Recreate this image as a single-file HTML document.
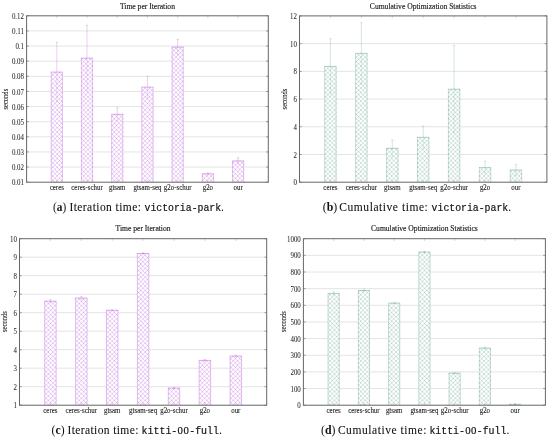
<!DOCTYPE html>
<html><head><meta charset="utf-8"><style>
html,body{margin:0;padding:0;background:#fff;}
body{width:550px;height:439px;position:relative;overflow:hidden;}
svg{position:absolute;left:0;top:0;}
</style></head><body>
<svg width="550" height="439" viewBox="0 0 550 439" font-family="'Liberation Serif', serif" fill="#222">
<defs><pattern id="pv" patternUnits="userSpaceOnUse" width="4.4" height="4.4" patternTransform="translate(0 0)"><path d="M0 0L4.4 4.4M0 4.4L4.4 0M-1 1L1 -1M3.4 5.4L5.4 3.4" stroke="#a42cd0" stroke-opacity="0.55" stroke-width="0.4" fill="none"/><g fill="#a42cd0" fill-opacity="0.18"><circle cx="0" cy="0" r="0.6"/><circle cx="4.4" cy="0" r="0.6"/><circle cx="0" cy="4.4" r="0.6"/><circle cx="4.4" cy="4.4" r="0.6"/><circle cx="2.2" cy="2.2" r="0.6"/></g></pattern>
<pattern id="pg" patternUnits="userSpaceOnUse" width="4.4" height="4.4" patternTransform="translate(0 0)"><path d="M0 0L4.4 4.4M0 4.4L4.4 0M-1 1L1 -1M3.4 5.4L5.4 3.4" stroke="#3b8a75" stroke-opacity="0.55" stroke-width="0.4" fill="none"/><g fill="#3b8a75" fill-opacity="0.18"><circle cx="0" cy="0" r="0.6"/><circle cx="4.4" cy="0" r="0.6"/><circle cx="0" cy="4.4" r="0.6"/><circle cx="4.4" cy="4.4" r="0.6"/><circle cx="2.2" cy="2.2" r="0.6"/></g></pattern>
</defs>
<line x1="26.6" y1="167.07" x2="268.3" y2="167.07" stroke="#e4e4e4" stroke-width="1"/>
<line x1="26.6" y1="151.95" x2="268.3" y2="151.95" stroke="#e4e4e4" stroke-width="1"/>
<line x1="26.6" y1="136.82" x2="268.3" y2="136.82" stroke="#e4e4e4" stroke-width="1"/>
<line x1="26.6" y1="121.69" x2="268.3" y2="121.69" stroke="#e4e4e4" stroke-width="1"/>
<line x1="26.6" y1="106.56" x2="268.3" y2="106.56" stroke="#e4e4e4" stroke-width="1"/>
<line x1="26.6" y1="91.44" x2="268.3" y2="91.44" stroke="#e4e4e4" stroke-width="1"/>
<line x1="26.6" y1="76.31" x2="268.3" y2="76.31" stroke="#e4e4e4" stroke-width="1"/>
<line x1="26.6" y1="61.18" x2="268.3" y2="61.18" stroke="#e4e4e4" stroke-width="1"/>
<line x1="26.6" y1="46.05" x2="268.3" y2="46.05" stroke="#e4e4e4" stroke-width="1"/>
<line x1="26.6" y1="30.93" x2="268.3" y2="30.93" stroke="#e4e4e4" stroke-width="1"/>
<rect x="50.92" y="72.1" width="11.78" height="110.1" fill="#fff"/>
<rect x="50.92" y="72.1" width="11.78" height="110.1" fill="url(#pv)"/>
<path d="M51.22 182.2V72.1M62.4 72.1V182.2" stroke="#a42cd0" stroke-opacity="0.45" stroke-width="0.6" fill="none"/>
<path d="M50.92 72.1H62.7" stroke="#a42cd0" stroke-opacity="0.55" stroke-width="0.7" fill="none"/>
<g stroke="#a42cd0" stroke-opacity="0.5" stroke-width="0.45"><line x1="56.81" y1="42.4" x2="56.81" y2="72.1"/><line x1="55.71" y1="42.4" x2="57.91" y2="42.4"/></g>
<g stroke="#a42cd0" stroke-opacity="0.3" stroke-width="0.45"><line x1="56.81" y1="72.1" x2="56.81" y2="101.8"/><line x1="55.71" y1="101.8" x2="57.91" y2="101.8"/></g>
<rect x="81.13" y="58.2" width="11.78" height="124" fill="#fff"/>
<rect x="81.13" y="58.2" width="11.78" height="124" fill="url(#pv)"/>
<path d="M81.43 182.2V58.2M92.62 58.2V182.2" stroke="#a42cd0" stroke-opacity="0.45" stroke-width="0.6" fill="none"/>
<path d="M81.13 58.2H92.92" stroke="#a42cd0" stroke-opacity="0.55" stroke-width="0.7" fill="none"/>
<g stroke="#a42cd0" stroke-opacity="0.5" stroke-width="0.45"><line x1="87.03" y1="25.25" x2="87.03" y2="58.2"/><line x1="85.93" y1="25.25" x2="88.12" y2="25.25"/></g>
<g stroke="#a42cd0" stroke-opacity="0.3" stroke-width="0.45"><line x1="87.03" y1="58.2" x2="87.03" y2="91.15"/><line x1="85.93" y1="91.15" x2="88.12" y2="91.15"/></g>
<rect x="111.35" y="114.3" width="11.78" height="67.9" fill="#fff"/>
<rect x="111.35" y="114.3" width="11.78" height="67.9" fill="url(#pv)"/>
<path d="M111.65 182.2V114.3M122.83 114.3V182.2" stroke="#a42cd0" stroke-opacity="0.45" stroke-width="0.6" fill="none"/>
<path d="M111.35 114.3H123.13" stroke="#a42cd0" stroke-opacity="0.55" stroke-width="0.7" fill="none"/>
<g stroke="#a42cd0" stroke-opacity="0.5" stroke-width="0.45"><line x1="117.24" y1="107.6" x2="117.24" y2="114.3"/><line x1="116.14" y1="107.6" x2="118.34" y2="107.6"/></g>
<g stroke="#a42cd0" stroke-opacity="0.3" stroke-width="0.45"><line x1="117.24" y1="114.3" x2="117.24" y2="121"/><line x1="116.14" y1="121" x2="118.34" y2="121"/></g>
<rect x="141.56" y="87.1" width="11.78" height="95.1" fill="#fff"/>
<rect x="141.56" y="87.1" width="11.78" height="95.1" fill="url(#pv)"/>
<path d="M141.86 182.2V87.1M153.04 87.1V182.2" stroke="#a42cd0" stroke-opacity="0.45" stroke-width="0.6" fill="none"/>
<path d="M141.56 87.1H153.34" stroke="#a42cd0" stroke-opacity="0.55" stroke-width="0.7" fill="none"/>
<g stroke="#a42cd0" stroke-opacity="0.5" stroke-width="0.45"><line x1="147.45" y1="76.2" x2="147.45" y2="87.1"/><line x1="146.35" y1="76.2" x2="148.55" y2="76.2"/></g>
<g stroke="#a42cd0" stroke-opacity="0.3" stroke-width="0.45"><line x1="147.45" y1="87.1" x2="147.45" y2="98"/><line x1="146.35" y1="98" x2="148.55" y2="98"/></g>
<rect x="171.77" y="47.1" width="11.78" height="135.1" fill="#fff"/>
<rect x="171.77" y="47.1" width="11.78" height="135.1" fill="url(#pv)"/>
<path d="M172.07 182.2V47.1M183.25 47.1V182.2" stroke="#a42cd0" stroke-opacity="0.45" stroke-width="0.6" fill="none"/>
<path d="M171.77 47.1H183.55" stroke="#a42cd0" stroke-opacity="0.55" stroke-width="0.7" fill="none"/>
<g stroke="#a42cd0" stroke-opacity="0.5" stroke-width="0.45"><line x1="177.66" y1="39.4" x2="177.66" y2="47.1"/><line x1="176.56" y1="39.4" x2="178.76" y2="39.4"/></g>
<g stroke="#a42cd0" stroke-opacity="0.3" stroke-width="0.45"><line x1="177.66" y1="47.1" x2="177.66" y2="54.8"/><line x1="176.56" y1="54.8" x2="178.76" y2="54.8"/></g>
<rect x="201.98" y="173.8" width="11.78" height="8.4" fill="#fff"/>
<rect x="201.98" y="173.8" width="11.78" height="8.4" fill="url(#pv)"/>
<path d="M202.28 182.2V173.8M213.47 173.8V182.2" stroke="#a42cd0" stroke-opacity="0.45" stroke-width="0.6" fill="none"/>
<path d="M201.98 173.8H213.77" stroke="#a42cd0" stroke-opacity="0.55" stroke-width="0.7" fill="none"/>
<g stroke="#a42cd0" stroke-opacity="0.5" stroke-width="0.45"><line x1="207.88" y1="172.8" x2="207.88" y2="173.8"/><line x1="206.78" y1="172.8" x2="208.97" y2="172.8"/></g>
<g stroke="#a42cd0" stroke-opacity="0.3" stroke-width="0.45"><line x1="207.88" y1="173.8" x2="207.88" y2="174.8"/><line x1="206.78" y1="174.8" x2="208.97" y2="174.8"/></g>
<rect x="232.2" y="160.9" width="11.78" height="21.3" fill="#fff"/>
<rect x="232.2" y="160.9" width="11.78" height="21.3" fill="url(#pv)"/>
<path d="M232.5 182.2V160.9M243.68 160.9V182.2" stroke="#a42cd0" stroke-opacity="0.45" stroke-width="0.6" fill="none"/>
<path d="M232.2 160.9H243.98" stroke="#a42cd0" stroke-opacity="0.55" stroke-width="0.7" fill="none"/>
<g stroke="#a42cd0" stroke-opacity="0.5" stroke-width="0.45"><line x1="238.09" y1="157.8" x2="238.09" y2="160.9"/><line x1="236.99" y1="157.8" x2="239.19" y2="157.8"/></g>
<g stroke="#a42cd0" stroke-opacity="0.3" stroke-width="0.45"><line x1="238.09" y1="160.9" x2="238.09" y2="164"/><line x1="236.99" y1="164" x2="239.19" y2="164"/></g>
<path d="M26.6 182.2h2.2M268.3 182.2h-2.2M26.6 167.07h2.2M268.3 167.07h-2.2M26.6 151.95h2.2M268.3 151.95h-2.2M26.6 136.82h2.2M268.3 136.82h-2.2M26.6 121.69h2.2M268.3 121.69h-2.2M26.6 106.56h2.2M268.3 106.56h-2.2M26.6 91.44h2.2M268.3 91.44h-2.2M26.6 76.31h2.2M268.3 76.31h-2.2M26.6 61.18h2.2M268.3 61.18h-2.2M26.6 46.05h2.2M268.3 46.05h-2.2M26.6 30.93h2.2M268.3 30.93h-2.2M26.6 15.8h2.2M268.3 15.8h-2.2" stroke="#777" stroke-width="0.7" fill="none"/>
<path d="M56.81 182.2v-2.2M56.81 15.8v2.2M87.03 182.2v-2.2M87.03 15.8v2.2M117.24 182.2v-2.2M117.24 15.8v2.2M147.45 182.2v-2.2M147.45 15.8v2.2M177.66 182.2v-2.2M177.66 15.8v2.2M207.88 182.2v-2.2M207.88 15.8v2.2M238.09 182.2v-2.2M238.09 15.8v2.2" stroke="#bbb" stroke-width="0.6" fill="none"/>
<rect x="26.6" y="15.8" width="241.7" height="166.4" fill="none" stroke="#666666" stroke-width="1"/>
<text x="24" y="185.3" text-anchor="end" font-size="7.3" textLength="12.08" lengthAdjust="spacingAndGlyphs" stroke="#222" stroke-width="0.03">0.01</text>
<text x="24" y="170.17" text-anchor="end" font-size="7.3" textLength="12.08" lengthAdjust="spacingAndGlyphs" stroke="#222" stroke-width="0.03">0.02</text>
<text x="24" y="155.05" text-anchor="end" font-size="7.3" textLength="12.08" lengthAdjust="spacingAndGlyphs" stroke="#222" stroke-width="0.03">0.03</text>
<text x="24" y="139.92" text-anchor="end" font-size="7.3" textLength="12.08" lengthAdjust="spacingAndGlyphs" stroke="#222" stroke-width="0.03">0.04</text>
<text x="24" y="124.79" text-anchor="end" font-size="7.3" textLength="12.08" lengthAdjust="spacingAndGlyphs" stroke="#222" stroke-width="0.03">0.05</text>
<text x="24" y="109.66" text-anchor="end" font-size="7.3" textLength="12.08" lengthAdjust="spacingAndGlyphs" stroke="#222" stroke-width="0.03">0.06</text>
<text x="24" y="94.54" text-anchor="end" font-size="7.3" textLength="12.08" lengthAdjust="spacingAndGlyphs" stroke="#222" stroke-width="0.03">0.07</text>
<text x="24" y="79.41" text-anchor="end" font-size="7.3" textLength="12.08" lengthAdjust="spacingAndGlyphs" stroke="#222" stroke-width="0.03">0.08</text>
<text x="24" y="64.28" text-anchor="end" font-size="7.3" textLength="12.08" lengthAdjust="spacingAndGlyphs" stroke="#222" stroke-width="0.03">0.09</text>
<text x="24" y="49.15" text-anchor="end" font-size="7.3" textLength="8.62" lengthAdjust="spacingAndGlyphs" stroke="#222" stroke-width="0.03">0.1</text>
<text x="24" y="34.03" text-anchor="end" font-size="7.3" textLength="12.08" lengthAdjust="spacingAndGlyphs" stroke="#222" stroke-width="0.03">0.11</text>
<text x="24" y="18.9" text-anchor="end" font-size="7.3" textLength="12.08" lengthAdjust="spacingAndGlyphs" stroke="#222" stroke-width="0.03">0.12</text>
<text x="56.81" y="190.2" text-anchor="middle" font-size="7.3" textLength="14.17" lengthAdjust="spacingAndGlyphs" stroke="#222" stroke-width="0.1">ceres</text>
<text x="87.03" y="190.2" text-anchor="middle" font-size="7.3" textLength="31.41" lengthAdjust="spacingAndGlyphs" stroke="#222" stroke-width="0.1">ceres-schur</text>
<text x="117.24" y="190.2" text-anchor="middle" font-size="7.3" textLength="16.48" lengthAdjust="spacingAndGlyphs" stroke="#222" stroke-width="0.1">gtsam</text>
<text x="147.45" y="190.2" text-anchor="middle" font-size="7.3" textLength="27.98" lengthAdjust="spacingAndGlyphs" stroke="#222" stroke-width="0.1">gtsam-seq</text>
<text x="177.66" y="190.2" text-anchor="middle" font-size="7.3" textLength="27.59" lengthAdjust="spacingAndGlyphs" stroke="#222" stroke-width="0.1">g2o-schur</text>
<text x="207.88" y="190.2" text-anchor="middle" font-size="7.3" textLength="10.35" lengthAdjust="spacingAndGlyphs" stroke="#222" stroke-width="0.1">g2o</text>
<text x="238.09" y="190.2" text-anchor="middle" font-size="7.3" textLength="9.2" lengthAdjust="spacingAndGlyphs" stroke="#222" stroke-width="0.1">our</text>
<text x="147.45" y="8.9" text-anchor="middle" font-size="7.6" stroke="#222" stroke-width="0.15">Time per Iteration</text>
<text transform="translate(8.1 99.2) rotate(-90)" text-anchor="middle" font-size="7.3" textLength="20.8" lengthAdjust="spacingAndGlyphs" stroke="#222" stroke-width="0.1">seconds</text>
<line x1="299.5" y1="154.48" x2="546.9" y2="154.48" stroke="#e4e4e4" stroke-width="1"/>
<line x1="299.5" y1="126.77" x2="546.9" y2="126.77" stroke="#e4e4e4" stroke-width="1"/>
<line x1="299.5" y1="99.05" x2="546.9" y2="99.05" stroke="#e4e4e4" stroke-width="1"/>
<line x1="299.5" y1="71.33" x2="546.9" y2="71.33" stroke="#e4e4e4" stroke-width="1"/>
<line x1="299.5" y1="43.62" x2="546.9" y2="43.62" stroke="#e4e4e4" stroke-width="1"/>
<rect x="324.39" y="66.4" width="12.06" height="115.8" fill="#fff"/>
<rect x="324.39" y="66.4" width="12.06" height="115.8" fill="url(#pg)"/>
<path d="M324.69 182.2V66.4M336.16 66.4V182.2" stroke="#3b8a75" stroke-opacity="0.45" stroke-width="0.6" fill="none"/>
<path d="M324.39 66.4H336.46" stroke="#3b8a75" stroke-opacity="0.55" stroke-width="0.7" fill="none"/>
<g stroke="#3b8a75" stroke-opacity="0.5" stroke-width="0.45"><line x1="330.43" y1="38.7" x2="330.43" y2="66.4"/><line x1="329.32" y1="38.7" x2="331.53" y2="38.7"/></g>
<g stroke="#3b8a75" stroke-opacity="0.3" stroke-width="0.45"><line x1="330.43" y1="66.4" x2="330.43" y2="94.1"/><line x1="329.32" y1="94.1" x2="331.53" y2="94.1"/></g>
<rect x="355.32" y="53.4" width="12.06" height="128.8" fill="#fff"/>
<rect x="355.32" y="53.4" width="12.06" height="128.8" fill="url(#pg)"/>
<path d="M355.62 182.2V53.4M367.08 53.4V182.2" stroke="#3b8a75" stroke-opacity="0.45" stroke-width="0.6" fill="none"/>
<path d="M355.32 53.4H367.38" stroke="#3b8a75" stroke-opacity="0.55" stroke-width="0.7" fill="none"/>
<g stroke="#3b8a75" stroke-opacity="0.5" stroke-width="0.45"><line x1="361.35" y1="22.7" x2="361.35" y2="53.4"/><line x1="360.25" y1="22.7" x2="362.45" y2="22.7"/></g>
<g stroke="#3b8a75" stroke-opacity="0.3" stroke-width="0.45"><line x1="361.35" y1="53.4" x2="361.35" y2="84.1"/><line x1="360.25" y1="84.1" x2="362.45" y2="84.1"/></g>
<rect x="386.24" y="148.3" width="12.06" height="33.9" fill="#fff"/>
<rect x="386.24" y="148.3" width="12.06" height="33.9" fill="url(#pg)"/>
<path d="M386.54 182.2V148.3M398.01 148.3V182.2" stroke="#3b8a75" stroke-opacity="0.45" stroke-width="0.6" fill="none"/>
<path d="M386.24 148.3H398.31" stroke="#3b8a75" stroke-opacity="0.55" stroke-width="0.7" fill="none"/>
<g stroke="#3b8a75" stroke-opacity="0.5" stroke-width="0.45"><line x1="392.27" y1="140" x2="392.27" y2="148.3"/><line x1="391.17" y1="140" x2="393.38" y2="140"/></g>
<g stroke="#3b8a75" stroke-opacity="0.3" stroke-width="0.45"><line x1="392.27" y1="148.3" x2="392.27" y2="156.6"/><line x1="391.17" y1="156.6" x2="393.38" y2="156.6"/></g>
<rect x="417.17" y="137.3" width="12.06" height="44.9" fill="#fff"/>
<rect x="417.17" y="137.3" width="12.06" height="44.9" fill="url(#pg)"/>
<path d="M417.47 182.2V137.3M428.93 137.3V182.2" stroke="#3b8a75" stroke-opacity="0.45" stroke-width="0.6" fill="none"/>
<path d="M417.17 137.3H429.23" stroke="#3b8a75" stroke-opacity="0.55" stroke-width="0.7" fill="none"/>
<g stroke="#3b8a75" stroke-opacity="0.5" stroke-width="0.45"><line x1="423.2" y1="126" x2="423.2" y2="137.3"/><line x1="422.1" y1="126" x2="424.3" y2="126"/></g>
<g stroke="#3b8a75" stroke-opacity="0.3" stroke-width="0.45"><line x1="423.2" y1="137.3" x2="423.2" y2="148.6"/><line x1="422.1" y1="148.6" x2="424.3" y2="148.6"/></g>
<rect x="448.09" y="89.2" width="12.06" height="93" fill="#fff"/>
<rect x="448.09" y="89.2" width="12.06" height="93" fill="url(#pg)"/>
<path d="M448.39 182.2V89.2M459.86 89.2V182.2" stroke="#3b8a75" stroke-opacity="0.45" stroke-width="0.6" fill="none"/>
<path d="M448.09 89.2H460.16" stroke="#3b8a75" stroke-opacity="0.55" stroke-width="0.7" fill="none"/>
<g stroke="#3b8a75" stroke-opacity="0.5" stroke-width="0.45"><line x1="454.12" y1="45.5" x2="454.12" y2="89.2"/><line x1="453.02" y1="45.5" x2="455.23" y2="45.5"/></g>
<g stroke="#3b8a75" stroke-opacity="0.3" stroke-width="0.45"><line x1="454.12" y1="89.2" x2="454.12" y2="132.9"/><line x1="453.02" y1="132.9" x2="455.23" y2="132.9"/></g>
<rect x="479.02" y="167.6" width="12.06" height="14.6" fill="#fff"/>
<rect x="479.02" y="167.6" width="12.06" height="14.6" fill="url(#pg)"/>
<path d="M479.32 182.2V167.6M490.78 167.6V182.2" stroke="#3b8a75" stroke-opacity="0.45" stroke-width="0.6" fill="none"/>
<path d="M479.02 167.6H491.08" stroke="#3b8a75" stroke-opacity="0.55" stroke-width="0.7" fill="none"/>
<g stroke="#3b8a75" stroke-opacity="0.5" stroke-width="0.45"><line x1="485.05" y1="161.3" x2="485.05" y2="167.6"/><line x1="483.95" y1="161.3" x2="486.15" y2="161.3"/></g>
<g stroke="#3b8a75" stroke-opacity="0.3" stroke-width="0.45"><line x1="485.05" y1="167.6" x2="485.05" y2="173.9"/><line x1="483.95" y1="173.9" x2="486.15" y2="173.9"/></g>
<rect x="509.94" y="170" width="12.06" height="12.2" fill="#fff"/>
<rect x="509.94" y="170" width="12.06" height="12.2" fill="url(#pg)"/>
<path d="M510.24 182.2V170M521.71 170V182.2" stroke="#3b8a75" stroke-opacity="0.45" stroke-width="0.6" fill="none"/>
<path d="M509.94 170H522.01" stroke="#3b8a75" stroke-opacity="0.55" stroke-width="0.7" fill="none"/>
<g stroke="#3b8a75" stroke-opacity="0.5" stroke-width="0.45"><line x1="515.97" y1="164.6" x2="515.97" y2="170"/><line x1="514.87" y1="164.6" x2="517.07" y2="164.6"/></g>
<g stroke="#3b8a75" stroke-opacity="0.3" stroke-width="0.45"><line x1="515.97" y1="170" x2="515.97" y2="175.4"/><line x1="514.87" y1="175.4" x2="517.07" y2="175.4"/></g>
<path d="M299.5 182.2h2.2M546.9 182.2h-2.2M299.5 154.48h2.2M546.9 154.48h-2.2M299.5 126.77h2.2M546.9 126.77h-2.2M299.5 99.05h2.2M546.9 99.05h-2.2M299.5 71.33h2.2M546.9 71.33h-2.2M299.5 43.62h2.2M546.9 43.62h-2.2M299.5 15.9h2.2M546.9 15.9h-2.2" stroke="#777" stroke-width="0.7" fill="none"/>
<path d="M330.43 182.2v-2.2M330.43 15.9v2.2M361.35 182.2v-2.2M361.35 15.9v2.2M392.27 182.2v-2.2M392.27 15.9v2.2M423.2 182.2v-2.2M423.2 15.9v2.2M454.12 182.2v-2.2M454.12 15.9v2.2M485.05 182.2v-2.2M485.05 15.9v2.2M515.97 182.2v-2.2M515.97 15.9v2.2" stroke="#bbb" stroke-width="0.6" fill="none"/>
<rect x="299.5" y="15.9" width="247.4" height="166.3" fill="none" stroke="#666666" stroke-width="1"/>
<text x="296.9" y="185.3" text-anchor="end" font-size="7.3" textLength="3.45" lengthAdjust="spacingAndGlyphs" stroke="#222" stroke-width="0.03">0</text>
<text x="296.9" y="157.58" text-anchor="end" font-size="7.3" textLength="3.45" lengthAdjust="spacingAndGlyphs" stroke="#222" stroke-width="0.03">2</text>
<text x="296.9" y="129.87" text-anchor="end" font-size="7.3" textLength="3.45" lengthAdjust="spacingAndGlyphs" stroke="#222" stroke-width="0.03">4</text>
<text x="296.9" y="102.15" text-anchor="end" font-size="7.3" textLength="3.45" lengthAdjust="spacingAndGlyphs" stroke="#222" stroke-width="0.03">6</text>
<text x="296.9" y="74.43" text-anchor="end" font-size="7.3" textLength="3.45" lengthAdjust="spacingAndGlyphs" stroke="#222" stroke-width="0.03">8</text>
<text x="296.9" y="46.72" text-anchor="end" font-size="7.3" textLength="6.9" lengthAdjust="spacingAndGlyphs" stroke="#222" stroke-width="0.03">10</text>
<text x="296.9" y="19" text-anchor="end" font-size="7.3" textLength="6.9" lengthAdjust="spacingAndGlyphs" stroke="#222" stroke-width="0.03">12</text>
<text x="330.43" y="190.2" text-anchor="middle" font-size="7.3" textLength="14.17" lengthAdjust="spacingAndGlyphs" stroke="#222" stroke-width="0.1">ceres</text>
<text x="361.35" y="190.2" text-anchor="middle" font-size="7.3" textLength="31.41" lengthAdjust="spacingAndGlyphs" stroke="#222" stroke-width="0.1">ceres-schur</text>
<text x="392.27" y="190.2" text-anchor="middle" font-size="7.3" textLength="16.48" lengthAdjust="spacingAndGlyphs" stroke="#222" stroke-width="0.1">gtsam</text>
<text x="423.2" y="190.2" text-anchor="middle" font-size="7.3" textLength="27.98" lengthAdjust="spacingAndGlyphs" stroke="#222" stroke-width="0.1">gtsam-seq</text>
<text x="454.12" y="190.2" text-anchor="middle" font-size="7.3" textLength="27.59" lengthAdjust="spacingAndGlyphs" stroke="#222" stroke-width="0.1">g2o-schur</text>
<text x="485.05" y="190.2" text-anchor="middle" font-size="7.3" textLength="10.35" lengthAdjust="spacingAndGlyphs" stroke="#222" stroke-width="0.1">g2o</text>
<text x="515.97" y="190.2" text-anchor="middle" font-size="7.3" textLength="9.2" lengthAdjust="spacingAndGlyphs" stroke="#222" stroke-width="0.1">our</text>
<text x="423.2" y="8.9" text-anchor="middle" font-size="7.6" stroke="#222" stroke-width="0.15">Cumulative Optimization Statistics</text>
<text transform="translate(287.2 99) rotate(-90)" text-anchor="middle" font-size="7.3" textLength="20.8" lengthAdjust="spacingAndGlyphs" stroke="#222" stroke-width="0.1">seconds</text>
<line x1="19.5" y1="386.7" x2="266.7" y2="386.7" stroke="#e4e4e4" stroke-width="1"/>
<line x1="19.5" y1="368.2" x2="266.7" y2="368.2" stroke="#e4e4e4" stroke-width="1"/>
<line x1="19.5" y1="349.7" x2="266.7" y2="349.7" stroke="#e4e4e4" stroke-width="1"/>
<line x1="19.5" y1="331.2" x2="266.7" y2="331.2" stroke="#e4e4e4" stroke-width="1"/>
<line x1="19.5" y1="312.7" x2="266.7" y2="312.7" stroke="#e4e4e4" stroke-width="1"/>
<line x1="19.5" y1="294.2" x2="266.7" y2="294.2" stroke="#e4e4e4" stroke-width="1"/>
<line x1="19.5" y1="275.7" x2="266.7" y2="275.7" stroke="#e4e4e4" stroke-width="1"/>
<line x1="19.5" y1="257.2" x2="266.7" y2="257.2" stroke="#e4e4e4" stroke-width="1"/>
<rect x="44.37" y="301.2" width="12.05" height="104" fill="#fff"/>
<rect x="44.37" y="301.2" width="12.05" height="104" fill="url(#pv)"/>
<path d="M44.67 405.2V301.2M56.13 301.2V405.2" stroke="#a42cd0" stroke-opacity="0.45" stroke-width="0.6" fill="none"/>
<path d="M44.37 301.2H56.43" stroke="#a42cd0" stroke-opacity="0.55" stroke-width="0.7" fill="none"/>
<g stroke="#a42cd0" stroke-opacity="0.5" stroke-width="0.45"><line x1="50.4" y1="299.5" x2="50.4" y2="301.2"/><line x1="49.3" y1="299.5" x2="51.5" y2="299.5"/></g>
<g stroke="#a42cd0" stroke-opacity="0.3" stroke-width="0.45"><line x1="50.4" y1="301.2" x2="50.4" y2="302.9"/><line x1="49.3" y1="302.9" x2="51.5" y2="302.9"/></g>
<rect x="75.27" y="298" width="12.05" height="107.2" fill="#fff"/>
<rect x="75.27" y="298" width="12.05" height="107.2" fill="url(#pv)"/>
<path d="M75.57 405.2V298M87.03 298V405.2" stroke="#a42cd0" stroke-opacity="0.45" stroke-width="0.6" fill="none"/>
<path d="M75.27 298H87.33" stroke="#a42cd0" stroke-opacity="0.55" stroke-width="0.7" fill="none"/>
<g stroke="#a42cd0" stroke-opacity="0.5" stroke-width="0.45"><line x1="81.3" y1="296.5" x2="81.3" y2="298"/><line x1="80.2" y1="296.5" x2="82.4" y2="296.5"/></g>
<g stroke="#a42cd0" stroke-opacity="0.3" stroke-width="0.45"><line x1="81.3" y1="298" x2="81.3" y2="299.5"/><line x1="80.2" y1="299.5" x2="82.4" y2="299.5"/></g>
<rect x="106.17" y="310.3" width="12.05" height="94.9" fill="#fff"/>
<rect x="106.17" y="310.3" width="12.05" height="94.9" fill="url(#pv)"/>
<path d="M106.47 405.2V310.3M117.93 310.3V405.2" stroke="#a42cd0" stroke-opacity="0.45" stroke-width="0.6" fill="none"/>
<path d="M106.17 310.3H118.23" stroke="#a42cd0" stroke-opacity="0.55" stroke-width="0.7" fill="none"/>
<g stroke="#a42cd0" stroke-opacity="0.5" stroke-width="0.45"><line x1="112.2" y1="309.8" x2="112.2" y2="310.3"/><line x1="111.1" y1="309.8" x2="113.3" y2="309.8"/></g>
<g stroke="#a42cd0" stroke-opacity="0.3" stroke-width="0.45"><line x1="112.2" y1="310.3" x2="112.2" y2="310.8"/><line x1="111.1" y1="310.8" x2="113.3" y2="310.8"/></g>
<rect x="137.07" y="253.5" width="12.05" height="151.7" fill="#fff"/>
<rect x="137.07" y="253.5" width="12.05" height="151.7" fill="url(#pv)"/>
<path d="M137.37 405.2V253.5M148.83 253.5V405.2" stroke="#a42cd0" stroke-opacity="0.45" stroke-width="0.6" fill="none"/>
<path d="M137.07 253.5H149.13" stroke="#a42cd0" stroke-opacity="0.55" stroke-width="0.7" fill="none"/>
<g stroke="#a42cd0" stroke-opacity="0.5" stroke-width="0.45"><line x1="143.1" y1="252.8" x2="143.1" y2="253.5"/><line x1="142" y1="252.8" x2="144.2" y2="252.8"/></g>
<g stroke="#a42cd0" stroke-opacity="0.3" stroke-width="0.45"><line x1="143.1" y1="253.5" x2="143.1" y2="254.2"/><line x1="142" y1="254.2" x2="144.2" y2="254.2"/></g>
<rect x="167.97" y="388.1" width="12.05" height="17.1" fill="#fff"/>
<rect x="167.97" y="388.1" width="12.05" height="17.1" fill="url(#pv)"/>
<path d="M168.27 405.2V388.1M179.73 388.1V405.2" stroke="#a42cd0" stroke-opacity="0.45" stroke-width="0.6" fill="none"/>
<path d="M167.97 388.1H180.03" stroke="#a42cd0" stroke-opacity="0.55" stroke-width="0.7" fill="none"/>
<g stroke="#a42cd0" stroke-opacity="0.5" stroke-width="0.45"><line x1="174" y1="387.6" x2="174" y2="388.1"/><line x1="172.9" y1="387.6" x2="175.1" y2="387.6"/></g>
<g stroke="#a42cd0" stroke-opacity="0.3" stroke-width="0.45"><line x1="174" y1="388.1" x2="174" y2="388.6"/><line x1="172.9" y1="388.6" x2="175.1" y2="388.6"/></g>
<rect x="198.87" y="360.4" width="12.05" height="44.8" fill="#fff"/>
<rect x="198.87" y="360.4" width="12.05" height="44.8" fill="url(#pv)"/>
<path d="M199.17 405.2V360.4M210.63 360.4V405.2" stroke="#a42cd0" stroke-opacity="0.45" stroke-width="0.6" fill="none"/>
<path d="M198.87 360.4H210.93" stroke="#a42cd0" stroke-opacity="0.55" stroke-width="0.7" fill="none"/>
<g stroke="#a42cd0" stroke-opacity="0.5" stroke-width="0.45"><line x1="204.9" y1="359.6" x2="204.9" y2="360.4"/><line x1="203.8" y1="359.6" x2="206" y2="359.6"/></g>
<g stroke="#a42cd0" stroke-opacity="0.3" stroke-width="0.45"><line x1="204.9" y1="360.4" x2="204.9" y2="361.2"/><line x1="203.8" y1="361.2" x2="206" y2="361.2"/></g>
<rect x="229.77" y="356" width="12.05" height="49.2" fill="#fff"/>
<rect x="229.77" y="356" width="12.05" height="49.2" fill="url(#pv)"/>
<path d="M230.07 405.2V356M241.53 356V405.2" stroke="#a42cd0" stroke-opacity="0.45" stroke-width="0.6" fill="none"/>
<path d="M229.77 356H241.83" stroke="#a42cd0" stroke-opacity="0.55" stroke-width="0.7" fill="none"/>
<g stroke="#a42cd0" stroke-opacity="0.5" stroke-width="0.45"><line x1="235.8" y1="355" x2="235.8" y2="356"/><line x1="234.7" y1="355" x2="236.9" y2="355"/></g>
<g stroke="#a42cd0" stroke-opacity="0.3" stroke-width="0.45"><line x1="235.8" y1="356" x2="235.8" y2="357"/><line x1="234.7" y1="357" x2="236.9" y2="357"/></g>
<path d="M19.5 405.2h2.2M266.7 405.2h-2.2M19.5 386.7h2.2M266.7 386.7h-2.2M19.5 368.2h2.2M266.7 368.2h-2.2M19.5 349.7h2.2M266.7 349.7h-2.2M19.5 331.2h2.2M266.7 331.2h-2.2M19.5 312.7h2.2M266.7 312.7h-2.2M19.5 294.2h2.2M266.7 294.2h-2.2M19.5 275.7h2.2M266.7 275.7h-2.2M19.5 257.2h2.2M266.7 257.2h-2.2M19.5 238.7h2.2M266.7 238.7h-2.2" stroke="#777" stroke-width="0.7" fill="none"/>
<path d="M50.4 405.2v-2.2M50.4 238.7v2.2M81.3 405.2v-2.2M81.3 238.7v2.2M112.2 405.2v-2.2M112.2 238.7v2.2M143.1 405.2v-2.2M143.1 238.7v2.2M174 405.2v-2.2M174 238.7v2.2M204.9 405.2v-2.2M204.9 238.7v2.2M235.8 405.2v-2.2M235.8 238.7v2.2" stroke="#bbb" stroke-width="0.6" fill="none"/>
<rect x="19.5" y="238.7" width="247.2" height="166.5" fill="none" stroke="#666666" stroke-width="1"/>
<text x="16.9" y="408.3" text-anchor="end" font-size="7.3" textLength="3.45" lengthAdjust="spacingAndGlyphs" stroke="#222" stroke-width="0.03">1</text>
<text x="16.9" y="389.8" text-anchor="end" font-size="7.3" textLength="3.45" lengthAdjust="spacingAndGlyphs" stroke="#222" stroke-width="0.03">2</text>
<text x="16.9" y="371.3" text-anchor="end" font-size="7.3" textLength="3.45" lengthAdjust="spacingAndGlyphs" stroke="#222" stroke-width="0.03">3</text>
<text x="16.9" y="352.8" text-anchor="end" font-size="7.3" textLength="3.45" lengthAdjust="spacingAndGlyphs" stroke="#222" stroke-width="0.03">4</text>
<text x="16.9" y="334.3" text-anchor="end" font-size="7.3" textLength="3.45" lengthAdjust="spacingAndGlyphs" stroke="#222" stroke-width="0.03">5</text>
<text x="16.9" y="315.8" text-anchor="end" font-size="7.3" textLength="3.45" lengthAdjust="spacingAndGlyphs" stroke="#222" stroke-width="0.03">6</text>
<text x="16.9" y="297.3" text-anchor="end" font-size="7.3" textLength="3.45" lengthAdjust="spacingAndGlyphs" stroke="#222" stroke-width="0.03">7</text>
<text x="16.9" y="278.8" text-anchor="end" font-size="7.3" textLength="3.45" lengthAdjust="spacingAndGlyphs" stroke="#222" stroke-width="0.03">8</text>
<text x="16.9" y="260.3" text-anchor="end" font-size="7.3" textLength="3.45" lengthAdjust="spacingAndGlyphs" stroke="#222" stroke-width="0.03">9</text>
<text x="16.9" y="241.8" text-anchor="end" font-size="7.3" textLength="6.9" lengthAdjust="spacingAndGlyphs" stroke="#222" stroke-width="0.03">10</text>
<text x="50.4" y="413.3" text-anchor="middle" font-size="7.3" textLength="14.17" lengthAdjust="spacingAndGlyphs" stroke="#222" stroke-width="0.1">ceres</text>
<text x="81.3" y="413.3" text-anchor="middle" font-size="7.3" textLength="31.41" lengthAdjust="spacingAndGlyphs" stroke="#222" stroke-width="0.1">ceres-schur</text>
<text x="112.2" y="413.3" text-anchor="middle" font-size="7.3" textLength="16.48" lengthAdjust="spacingAndGlyphs" stroke="#222" stroke-width="0.1">gtsam</text>
<text x="143.1" y="413.3" text-anchor="middle" font-size="7.3" textLength="27.98" lengthAdjust="spacingAndGlyphs" stroke="#222" stroke-width="0.1">gtsam-seq</text>
<text x="174" y="413.3" text-anchor="middle" font-size="7.3" textLength="27.59" lengthAdjust="spacingAndGlyphs" stroke="#222" stroke-width="0.1">g2o-schur</text>
<text x="204.9" y="413.3" text-anchor="middle" font-size="7.3" textLength="10.35" lengthAdjust="spacingAndGlyphs" stroke="#222" stroke-width="0.1">g2o</text>
<text x="235.8" y="413.3" text-anchor="middle" font-size="7.3" textLength="9.2" lengthAdjust="spacingAndGlyphs" stroke="#222" stroke-width="0.1">our</text>
<text x="143.1" y="231.3" text-anchor="middle" font-size="7.6" stroke="#222" stroke-width="0.15">Time per Iteration</text>
<text transform="translate(7.1 321.6) rotate(-90)" text-anchor="middle" font-size="7.3" textLength="20.8" lengthAdjust="spacingAndGlyphs" stroke="#222" stroke-width="0.1">seconds</text>
<line x1="303.4" y1="388.55" x2="545.4" y2="388.55" stroke="#e4e4e4" stroke-width="1"/>
<line x1="303.4" y1="371.9" x2="545.4" y2="371.9" stroke="#e4e4e4" stroke-width="1"/>
<line x1="303.4" y1="355.25" x2="545.4" y2="355.25" stroke="#e4e4e4" stroke-width="1"/>
<line x1="303.4" y1="338.6" x2="545.4" y2="338.6" stroke="#e4e4e4" stroke-width="1"/>
<line x1="303.4" y1="321.95" x2="545.4" y2="321.95" stroke="#e4e4e4" stroke-width="1"/>
<line x1="303.4" y1="305.3" x2="545.4" y2="305.3" stroke="#e4e4e4" stroke-width="1"/>
<line x1="303.4" y1="288.65" x2="545.4" y2="288.65" stroke="#e4e4e4" stroke-width="1"/>
<line x1="303.4" y1="272" x2="545.4" y2="272" stroke="#e4e4e4" stroke-width="1"/>
<line x1="303.4" y1="255.35" x2="545.4" y2="255.35" stroke="#e4e4e4" stroke-width="1"/>
<rect x="327.75" y="293.4" width="11.8" height="111.8" fill="#fff"/>
<rect x="327.75" y="293.4" width="11.8" height="111.8" fill="url(#pg)"/>
<path d="M328.05 405.2V293.4M339.25 293.4V405.2" stroke="#3b8a75" stroke-opacity="0.45" stroke-width="0.6" fill="none"/>
<path d="M327.75 293.4H339.55" stroke="#3b8a75" stroke-opacity="0.55" stroke-width="0.7" fill="none"/>
<g stroke="#3b8a75" stroke-opacity="0.5" stroke-width="0.45"><line x1="333.65" y1="291.9" x2="333.65" y2="293.4"/><line x1="332.55" y1="291.9" x2="334.75" y2="291.9"/></g>
<g stroke="#3b8a75" stroke-opacity="0.3" stroke-width="0.45"><line x1="333.65" y1="293.4" x2="333.65" y2="294.9"/><line x1="332.55" y1="294.9" x2="334.75" y2="294.9"/></g>
<rect x="358" y="290.5" width="11.8" height="114.7" fill="#fff"/>
<rect x="358" y="290.5" width="11.8" height="114.7" fill="url(#pg)"/>
<path d="M358.3 405.2V290.5M369.5 290.5V405.2" stroke="#3b8a75" stroke-opacity="0.45" stroke-width="0.6" fill="none"/>
<path d="M358 290.5H369.8" stroke="#3b8a75" stroke-opacity="0.55" stroke-width="0.7" fill="none"/>
<g stroke="#3b8a75" stroke-opacity="0.5" stroke-width="0.45"><line x1="363.9" y1="289.3" x2="363.9" y2="290.5"/><line x1="362.8" y1="289.3" x2="365" y2="289.3"/></g>
<g stroke="#3b8a75" stroke-opacity="0.3" stroke-width="0.45"><line x1="363.9" y1="290.5" x2="363.9" y2="291.7"/><line x1="362.8" y1="291.7" x2="365" y2="291.7"/></g>
<rect x="388.25" y="303.1" width="11.8" height="102.1" fill="#fff"/>
<rect x="388.25" y="303.1" width="11.8" height="102.1" fill="url(#pg)"/>
<path d="M388.55 405.2V303.1M399.75 303.1V405.2" stroke="#3b8a75" stroke-opacity="0.45" stroke-width="0.6" fill="none"/>
<path d="M388.25 303.1H400.05" stroke="#3b8a75" stroke-opacity="0.55" stroke-width="0.7" fill="none"/>
<g stroke="#3b8a75" stroke-opacity="0.5" stroke-width="0.45"><line x1="394.15" y1="302.6" x2="394.15" y2="303.1"/><line x1="393.05" y1="302.6" x2="395.25" y2="302.6"/></g>
<g stroke="#3b8a75" stroke-opacity="0.3" stroke-width="0.45"><line x1="394.15" y1="303.1" x2="394.15" y2="303.6"/><line x1="393.05" y1="303.6" x2="395.25" y2="303.6"/></g>
<rect x="418.5" y="252" width="11.8" height="153.2" fill="#fff"/>
<rect x="418.5" y="252" width="11.8" height="153.2" fill="url(#pg)"/>
<path d="M418.8 405.2V252M430 252V405.2" stroke="#3b8a75" stroke-opacity="0.45" stroke-width="0.6" fill="none"/>
<path d="M418.5 252H430.3" stroke="#3b8a75" stroke-opacity="0.55" stroke-width="0.7" fill="none"/>
<g stroke="#3b8a75" stroke-opacity="0.5" stroke-width="0.45"><line x1="424.4" y1="251.3" x2="424.4" y2="252"/><line x1="423.3" y1="251.3" x2="425.5" y2="251.3"/></g>
<g stroke="#3b8a75" stroke-opacity="0.3" stroke-width="0.45"><line x1="424.4" y1="252" x2="424.4" y2="252.7"/><line x1="423.3" y1="252.7" x2="425.5" y2="252.7"/></g>
<rect x="448.75" y="373.2" width="11.8" height="32" fill="#fff"/>
<rect x="448.75" y="373.2" width="11.8" height="32" fill="url(#pg)"/>
<path d="M449.05 405.2V373.2M460.25 373.2V405.2" stroke="#3b8a75" stroke-opacity="0.45" stroke-width="0.6" fill="none"/>
<path d="M448.75 373.2H460.55" stroke="#3b8a75" stroke-opacity="0.55" stroke-width="0.7" fill="none"/>
<g stroke="#3b8a75" stroke-opacity="0.5" stroke-width="0.45"><line x1="454.65" y1="372.7" x2="454.65" y2="373.2"/><line x1="453.55" y1="372.7" x2="455.75" y2="372.7"/></g>
<g stroke="#3b8a75" stroke-opacity="0.3" stroke-width="0.45"><line x1="454.65" y1="373.2" x2="454.65" y2="373.7"/><line x1="453.55" y1="373.7" x2="455.75" y2="373.7"/></g>
<rect x="479" y="348.1" width="11.8" height="57.1" fill="#fff"/>
<rect x="479" y="348.1" width="11.8" height="57.1" fill="url(#pg)"/>
<path d="M479.3 405.2V348.1M490.5 348.1V405.2" stroke="#3b8a75" stroke-opacity="0.45" stroke-width="0.6" fill="none"/>
<path d="M479 348.1H490.8" stroke="#3b8a75" stroke-opacity="0.55" stroke-width="0.7" fill="none"/>
<g stroke="#3b8a75" stroke-opacity="0.5" stroke-width="0.45"><line x1="484.9" y1="347" x2="484.9" y2="348.1"/><line x1="483.8" y1="347" x2="486" y2="347"/></g>
<g stroke="#3b8a75" stroke-opacity="0.3" stroke-width="0.45"><line x1="484.9" y1="348.1" x2="484.9" y2="349.2"/><line x1="483.8" y1="349.2" x2="486" y2="349.2"/></g>
<rect x="509.25" y="404.3" width="11.8" height="0.9" fill="#fff"/>
<rect x="509.25" y="404.3" width="11.8" height="0.9" fill="url(#pg)"/>
<path d="M509.55 405.2V404.3M520.75 404.3V405.2" stroke="#3b8a75" stroke-opacity="0.45" stroke-width="0.6" fill="none"/>
<path d="M509.25 404.3H521.05" stroke="#3b8a75" stroke-opacity="0.55" stroke-width="0.7" fill="none"/>
<g stroke="#3b8a75" stroke-opacity="0.5" stroke-width="0.45"><line x1="515.15" y1="403.8" x2="515.15" y2="404.3"/><line x1="514.05" y1="403.8" x2="516.25" y2="403.8"/></g>
<g stroke="#3b8a75" stroke-opacity="0.3" stroke-width="0.45"><line x1="515.15" y1="404.3" x2="515.15" y2="404.8"/><line x1="514.05" y1="404.8" x2="516.25" y2="404.8"/></g>
<path d="M303.4 405.2h2.2M545.4 405.2h-2.2M303.4 388.55h2.2M545.4 388.55h-2.2M303.4 371.9h2.2M545.4 371.9h-2.2M303.4 355.25h2.2M545.4 355.25h-2.2M303.4 338.6h2.2M545.4 338.6h-2.2M303.4 321.95h2.2M545.4 321.95h-2.2M303.4 305.3h2.2M545.4 305.3h-2.2M303.4 288.65h2.2M545.4 288.65h-2.2M303.4 272h2.2M545.4 272h-2.2M303.4 255.35h2.2M545.4 255.35h-2.2M303.4 238.7h2.2M545.4 238.7h-2.2" stroke="#777" stroke-width="0.7" fill="none"/>
<path d="M333.65 405.2v-2.2M333.65 238.7v2.2M363.9 405.2v-2.2M363.9 238.7v2.2M394.15 405.2v-2.2M394.15 238.7v2.2M424.4 405.2v-2.2M424.4 238.7v2.2M454.65 405.2v-2.2M454.65 238.7v2.2M484.9 405.2v-2.2M484.9 238.7v2.2M515.15 405.2v-2.2M515.15 238.7v2.2" stroke="#bbb" stroke-width="0.6" fill="none"/>
<rect x="303.4" y="238.7" width="242" height="166.5" fill="none" stroke="#666666" stroke-width="1"/>
<text x="300.8" y="408.3" text-anchor="end" font-size="7.3" textLength="3.45" lengthAdjust="spacingAndGlyphs" stroke="#222" stroke-width="0.03">0</text>
<text x="300.8" y="391.65" text-anchor="end" font-size="7.3" textLength="10.35" lengthAdjust="spacingAndGlyphs" stroke="#222" stroke-width="0.03">100</text>
<text x="300.8" y="375" text-anchor="end" font-size="7.3" textLength="10.35" lengthAdjust="spacingAndGlyphs" stroke="#222" stroke-width="0.03">200</text>
<text x="300.8" y="358.35" text-anchor="end" font-size="7.3" textLength="10.35" lengthAdjust="spacingAndGlyphs" stroke="#222" stroke-width="0.03">300</text>
<text x="300.8" y="341.7" text-anchor="end" font-size="7.3" textLength="10.35" lengthAdjust="spacingAndGlyphs" stroke="#222" stroke-width="0.03">400</text>
<text x="300.8" y="325.05" text-anchor="end" font-size="7.3" textLength="10.35" lengthAdjust="spacingAndGlyphs" stroke="#222" stroke-width="0.03">500</text>
<text x="300.8" y="308.4" text-anchor="end" font-size="7.3" textLength="10.35" lengthAdjust="spacingAndGlyphs" stroke="#222" stroke-width="0.03">600</text>
<text x="300.8" y="291.75" text-anchor="end" font-size="7.3" textLength="10.35" lengthAdjust="spacingAndGlyphs" stroke="#222" stroke-width="0.03">700</text>
<text x="300.8" y="275.1" text-anchor="end" font-size="7.3" textLength="10.35" lengthAdjust="spacingAndGlyphs" stroke="#222" stroke-width="0.03">800</text>
<text x="300.8" y="258.45" text-anchor="end" font-size="7.3" textLength="10.35" lengthAdjust="spacingAndGlyphs" stroke="#222" stroke-width="0.03">900</text>
<text x="300.8" y="241.8" text-anchor="end" font-size="7.3" textLength="13.8" lengthAdjust="spacingAndGlyphs" stroke="#222" stroke-width="0.03">1000</text>
<text x="333.65" y="413.3" text-anchor="middle" font-size="7.3" textLength="14.17" lengthAdjust="spacingAndGlyphs" stroke="#222" stroke-width="0.1">ceres</text>
<text x="363.9" y="413.3" text-anchor="middle" font-size="7.3" textLength="31.41" lengthAdjust="spacingAndGlyphs" stroke="#222" stroke-width="0.1">ceres-schur</text>
<text x="394.15" y="413.3" text-anchor="middle" font-size="7.3" textLength="16.48" lengthAdjust="spacingAndGlyphs" stroke="#222" stroke-width="0.1">gtsam</text>
<text x="424.4" y="413.3" text-anchor="middle" font-size="7.3" textLength="27.98" lengthAdjust="spacingAndGlyphs" stroke="#222" stroke-width="0.1">gtsam-seq</text>
<text x="454.65" y="413.3" text-anchor="middle" font-size="7.3" textLength="27.59" lengthAdjust="spacingAndGlyphs" stroke="#222" stroke-width="0.1">g2o-schur</text>
<text x="484.9" y="413.3" text-anchor="middle" font-size="7.3" textLength="10.35" lengthAdjust="spacingAndGlyphs" stroke="#222" stroke-width="0.1">g2o</text>
<text x="515.15" y="413.3" text-anchor="middle" font-size="7.3" textLength="9.2" lengthAdjust="spacingAndGlyphs" stroke="#222" stroke-width="0.1">our</text>
<text x="424.4" y="231.3" text-anchor="middle" font-size="7.6" stroke="#222" stroke-width="0.15">Cumulative Optimization Statistics</text>
<text transform="translate(286.3 321.6) rotate(-90)" text-anchor="middle" font-size="7.3" textLength="20.8" lengthAdjust="spacingAndGlyphs" stroke="#222" stroke-width="0.1">seconds</text>
<g fill="#111"><text x="53" y="210.8" font-size="11.5" textLength="13.2" lengthAdjust="spacingAndGlyphs">(<tspan font-weight="bold">a</tspan>)</text>
<text x="69.4" y="210.8" font-size="11.5" textLength="71.5" lengthAdjust="spacing" stroke="#111" stroke-width="0.08">Iteration time:</text>
<text x="144.5" y="210.8" font-family="'Liberation Mono', monospace" font-size="11.0" textLength="76.6" lengthAdjust="spacingAndGlyphs" stroke="#111" stroke-width="0.2">victoria-park</text>
<text x="221.1" y="210.8" font-size="11.5">.</text>
<text x="322.7" y="210.8" font-size="11.5" textLength="14.5" lengthAdjust="spacingAndGlyphs">(<tspan font-weight="bold">b</tspan>)</text>
<text x="339.3" y="210.8" font-size="11.5" textLength="88.5" lengthAdjust="spacing" stroke="#111" stroke-width="0.08">Cumulative time:</text>
<text x="431.6" y="210.8" font-family="'Liberation Mono', monospace" font-size="11.0" textLength="76.6" lengthAdjust="spacingAndGlyphs" stroke="#111" stroke-width="0.2">victoria-park</text>
<text x="508.2" y="210.8" font-size="11.5">.</text>
<text x="51.6" y="433.6" font-size="11.5" textLength="13" lengthAdjust="spacingAndGlyphs">(<tspan font-weight="bold">c</tspan>)</text>
<text x="67.4" y="433.6" font-size="11.5" textLength="71" lengthAdjust="spacing" stroke="#111" stroke-width="0.08">Iteration time:</text>
<text x="141.6" y="433.6" font-family="'Liberation Mono', monospace" font-size="11.0" textLength="35.72" lengthAdjust="spacingAndGlyphs" stroke="#111" stroke-width="0.2">kitti-</text>
<text x="180.3" y="433.6" font-size="10.8" text-anchor="middle" stroke="#111" stroke-width="0.15">0</text>
<text x="186.25" y="433.6" font-size="10.8" text-anchor="middle" stroke="#111" stroke-width="0.15">0</text>
<text x="189.23" y="433.6" font-family="'Liberation Mono', monospace" font-size="11.0" textLength="29.77" lengthAdjust="spacingAndGlyphs" stroke="#111" stroke-width="0.2">-full</text>
<text x="219" y="433.6" font-size="11.5">.</text>
<text x="321" y="433.6" font-size="11.5" textLength="14.5" lengthAdjust="spacingAndGlyphs">(<tspan font-weight="bold">d</tspan>)</text>
<text x="337.9" y="433.6" font-size="11.5" textLength="88.5" lengthAdjust="spacing" stroke="#111" stroke-width="0.08">Cumulative time:</text>
<text x="429.4" y="433.6" font-family="'Liberation Mono', monospace" font-size="11.0" textLength="35.54" lengthAdjust="spacingAndGlyphs" stroke="#111" stroke-width="0.2">kitti-</text>
<text x="467.9" y="433.6" font-size="10.8" text-anchor="middle" stroke="#111" stroke-width="0.15">0</text>
<text x="473.82" y="433.6" font-size="10.8" text-anchor="middle" stroke="#111" stroke-width="0.15">0</text>
<text x="476.78" y="433.6" font-family="'Liberation Mono', monospace" font-size="11.0" textLength="29.62" lengthAdjust="spacingAndGlyphs" stroke="#111" stroke-width="0.2">-full</text>
<text x="506.4" y="433.6" font-size="11.5">.</text></g>
</svg>
</body></html>
